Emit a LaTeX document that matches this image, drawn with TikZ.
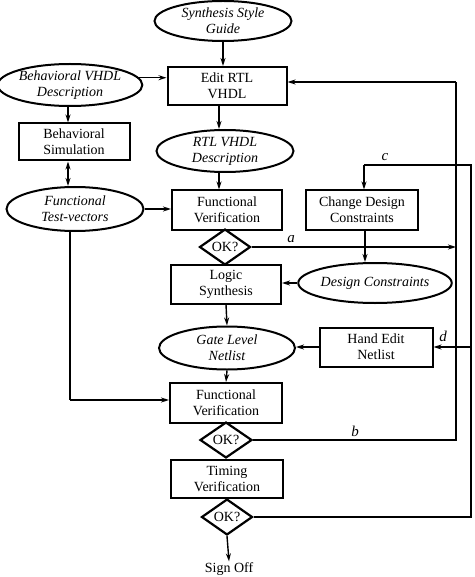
\documentclass[tikz,border=0pt]{standalone}
\usepackage{fontspec}
\setmainfont{Liberation Serif}
\usetikzlibrary{shapes.geometric,arrows.meta}
\begin{document}
\begin{tikzpicture}[x=1pt,y=-1pt,
  box/.style={draw,line width=2pt,rectangle,inner sep=0pt,align=center,font=\fontsize{14}{16}\selectfont},
  ell/.style={draw,line width=2pt,ellipse,inner sep=0pt,align=center,font=\fontsize{14}{16}\selectfont\itshape},
  dia/.style={draw,line width=2.2pt,diamond,inner sep=0pt,font=\fontsize{14}{16}\selectfont},
  conn/.style={line width=1.4pt},
  arr/.style={conn,-{Stealth[length=8pt,width=5pt]}},
  darr/.style={conn,{Stealth[length=8pt,width=5pt]}-{Stealth[length=8pt,width=5pt]}},
  lbl/.style={font=\fontsize{15}{17}\selectfont\itshape,inner sep=0pt}
]
\useasboundingbox (0,0) rectangle (474,577);
% nodes
\node[ell,minimum width=137pt,minimum height=40pt] (ssg) at (223,21) {Synthesis Style\\Guide};
\node[box,minimum width=119pt,minimum height=38pt] (edit) at (227,86) {Edit RTL\\VHDL};
\node[ell,minimum width=135pt,minimum height=42pt] (bvd) at (70,85) {Behavioral VHDL\\Description};
\node[box,minimum width=111pt,minimum height=37pt] (bsim) at (74,142) {Behavioral\\Simulation};
\node[ell,minimum width=137pt,minimum height=42pt] (rtld) at (225,151) {RTL VHDL\\Description};
\node[ell,minimum width=137pt,minimum height=44pt] (ftv) at (75,209) {Functional\\Test-vectors};
\node[box,minimum width=110pt,minimum height=39pt] (fv1) at (227,210) {Functional\\Verification};
\node[box,minimum width=112pt,minimum height=39pt] (cdc) at (362,210) {Change Design\\Constraints};
\node[dia,minimum width=51pt,minimum height=32pt] (ok1) at (225,247) {OK?};
\node[box,minimum width=110pt,minimum height=39pt] (ls) at (226,284) {Logic\\Synthesis};
\node[ell,minimum width=139pt,minimum height=40pt] (dc) at (375,283) {Design Constraints};
\node[ell,minimum width=136pt,minimum height=43pt] (gln) at (227,348) {Gate Level\\Netlist};
\node[box,minimum width=113pt,minimum height=39pt] (hen) at (376,347) {Hand Edit\\Netlist};
\node[box,minimum width=112pt,minimum height=40pt] (fv2) at (226,403) {Functional\\Verification};
\node[dia,minimum width=52pt,minimum height=33pt] (ok2) at (226,440) {OK?};
\node[box,minimum width=112pt,minimum height=38pt] (tv) at (227,479) {Timing\\Verification};
\node[dia,minimum width=51pt,minimum height=34pt] (ok3) at (227,517) {OK?};
\node[font=\fontsize{14}{16}\selectfont,inner sep=1pt] (so) at (229,569) {Sign Off};
% bus coordinates
\coordinate (iTop) at (456,82);
\coordinate (iA) at (456,247);
\coordinate (iB) at (456,440);
\coordinate (oTop) at (471,165);
\coordinate (oD) at (471,347);
\coordinate (oBot) at (471,517);
\coordinate (cTurn) at (364,165);
\coordinate (ftvTurn) at (70,400);
% connectors
\draw[arr] (ssg.south) -- (ssg.south |- edit.north);
\draw[arr] (bvd.6) -- (bvd.6 -| edit.west);
\draw[arr] (bvd.south -| 68,0) -- (bsim.north -| 68,0);
\draw[darr] (bsim.south -| 68,0) -- (ftv.north -| 68,0);
\draw[arr] (edit.south -| 219,0) -- (rtld.north -| 219,0);
\draw[arr] (rtld.south -| 219,0) -- (fv1.north -| 219,0);
\draw[arr] (ftv.east) -- (ftv.east -| fv1.west);
\draw[conn] (ftv.south -| ftvTurn) -- (ftvTurn);
\draw[arr] (ftvTurn) -- (ftvTurn -| fv2.west);
\draw[arr] (ok1.east) -- (iA);
\draw[arr] (cdc.south -| 365,0) -- (dc.north -| 365,0);
\draw[arr] (dc.west) -- (dc.west -| ls.east);
\draw[arr] (ls.south) -- (gln.north);
\draw[arr] (hen.west) -- (hen.west -| gln.east);
\draw[arr] (gln.south) -- (fv2.north);
\draw[conn] (ok2.east) -- (iB) -- (iTop);
\draw[arr] (iTop) -- (iTop -| edit.east);
\draw[conn,line width=1.8pt] (ok3.east) -- (oBot) -- (oTop) -- (cTurn);
\draw[arr] (cTurn) -- (cTurn |- cdc.north);
\draw[arr] (oD) -- (oD -| hen.east);
\draw[arr] (ok3.south) -- (so.north);
% labels
\node[lbl] (la) at (291,239) {a};
\node[lbl] (lb) at (355,431) {b};
\node[lbl] (lc) at (385,157) {c};
\node[lbl] (ld) at (443,336) {d};
\end{tikzpicture}
\end{document}
